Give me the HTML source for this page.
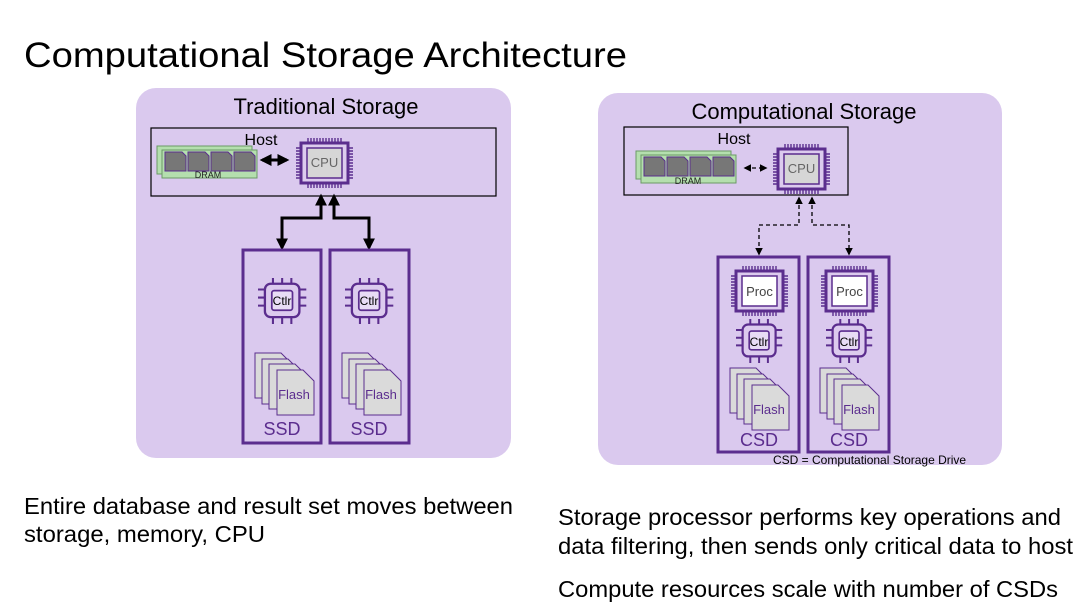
<!DOCTYPE html>
<html><head><meta charset="utf-8"><style>
html,body{margin:0;padding:0;background:#fff;width:1080px;height:604px;overflow:hidden}
svg{display:block}
text{font-family:"Liberation Sans",Arial,sans-serif}
</style></head><body>
<svg width="1080" height="604" viewBox="0 0 1080 604" xmlns="http://www.w3.org/2000/svg">
<defs>
  <marker id="ah" viewBox="0 0 10 10" refX="8" refY="5" markerWidth="4" markerHeight="4" orient="auto-start-reverse"><path d="M0 0 L10 5 L0 10 Z" fill="#000"/></marker>
  <marker id="ahs" viewBox="0 0 10 10" refX="8" refY="5" markerWidth="6" markerHeight="6" orient="auto-start-reverse"><path d="M0 0 L10 5 L0 10 Z" fill="#000"/></marker>
  <g id="pins">
    <path d="M12 0V6M15 0V6M18 0V6M21 0V6M24 0V6M27 0V6M30 0V6M33 0V6M36 0V6M39 0V6M42 0V6M45 0V6
             M12 44V50M15 44V50M18 44V50M21 44V50M24 44V50M27 44V50M30 44V50M33 44V50M36 44V50M39 44V50M42 44V50M45 44V50
             M0 10H6M0 13H6M0 16H6M0 19H6M0 22H6M0 25H6M0 28H6M0 31H6M0 34H6M0 37H6M0 40H6
             M51 10H57M51 13H57M51 16H57M51 19H57M51 22H57M51 25H57M51 28H57M51 31H57M51 34H57M51 37H57M51 40H57" stroke="#5b2d8e" stroke-width="1.4"/>
    <rect x="5" y="5" width="47" height="40" fill="#dccbee" stroke="#5b2d8e" stroke-width="3"/>
  </g>
  <g id="cpu"><use href="#pins"/><rect x="11" y="10" width="35" height="30" fill="#d6d6d6" stroke="#5b2d8e" stroke-width="1.5"/></g>
  <g id="proc"><use href="#pins"/><rect x="11" y="10" width="35" height="30" fill="#fff" stroke="#5b2d8e" stroke-width="1.5"/></g>
  <g id="ctlr" stroke="#5b2d8e" fill="none">
    <path d="M13 0V6M21 0V6M29 0V6M13 34V40M21 34V40M29 34V40M0 10H6M0 17H6M0 24H6M36 10H42M36 17H42M36 24H42" stroke-width="1.8"/>
    <rect x="6" y="5" width="30" height="29" rx="5" fill="#dccbee" stroke-width="2"/>
    <rect x="12" y="11" width="18" height="17" rx="2" fill="#e8dcf5" stroke-width="1.5"/>
  </g>
  <g id="page"><path d="M0 0H26L37 11V45H0Z" fill="#dadada" stroke="#5b2d8e" stroke-width="1"/></g>
  <g id="flash">
    <use href="#page" x="0" y="0"/><use href="#page" x="7" y="6"/><use href="#page" x="14" y="11"/><use href="#page" x="22" y="17"/>
  </g>
  <g id="dram">
    <rect x="0" y="0" width="95" height="28" fill="#b4dfae" stroke="#6b9a66"/>
    <rect x="5" y="4" width="95" height="28" fill="#b4dfae" stroke="#6b9a66"/>
    <path d="M8 6h17l4 4v15h-21z M31 6h17l4 4v15h-21z M54 6h17l4 4v15h-21z M77 6h17l4 4v15h-21z" fill="#777" stroke="#5b2d8e"/>
  </g>
</defs>

<text x="24" y="67" font-size="35" textLength="603" lengthAdjust="spacingAndGlyphs" fill="#000">Computational Storage Architecture</text>

<!-- Left panel -->
<rect x="136" y="88" width="375" height="370" rx="20" fill="#dac9ee"/>
<text x="326" y="114" font-size="22" text-anchor="middle" fill="#000">Traditional Storage</text>
<rect x="151" y="128" width="345" height="68" fill="#dac9ee" stroke="#000" stroke-width="1.2"/>
<text x="261" y="145" font-size="16" text-anchor="middle">Host</text>
<use href="#dram" x="157" y="146"/>
<text x="208" y="178" font-size="9" text-anchor="middle" fill="#222">DRAM</text>
<line x1="262" y1="160" x2="287" y2="160" stroke="#000" stroke-width="3" marker-start="url(#ah)" marker-end="url(#ah)"/>
<use href="#cpu" x="296" y="138"/>
<text x="324.5" y="167" font-size="13" text-anchor="middle" fill="#666">CPU</text>
<path d="M321 196V218H282V248" fill="none" stroke="#000" stroke-width="3" marker-start="url(#ah)" marker-end="url(#ah)"/>
<path d="M334 196V218H369V248" fill="none" stroke="#000" stroke-width="3" marker-start="url(#ah)" marker-end="url(#ah)"/>
<rect x="243" y="250" width="78" height="193" fill="none" stroke="#5b2d8e" stroke-width="3"/>
<rect x="330" y="250" width="79" height="193" fill="none" stroke="#5b2d8e" stroke-width="3"/>
<use href="#ctlr" transform="translate(258,278) scale(1.15)"/><text x="282" y="305" font-size="12" text-anchor="middle">Ctlr</text>
<use href="#ctlr" transform="translate(345,278) scale(1.15)"/><text x="369" y="305" font-size="12" text-anchor="middle">Ctlr</text>
<use href="#flash" x="255" y="353"/><text x="294" y="399" font-size="13" text-anchor="middle" fill="#5b2d8e">Flash</text>
<use href="#flash" x="342" y="353"/><text x="381" y="399" font-size="13" text-anchor="middle" fill="#5b2d8e">Flash</text>
<text x="282" y="435" font-size="18" text-anchor="middle" fill="#5b2d8e">SSD</text>
<text x="369" y="435" font-size="18" text-anchor="middle" fill="#5b2d8e">SSD</text>

<!-- Right panel -->
<rect x="598" y="93" width="404" height="372" rx="20" fill="#dac9ee"/>
<text x="804" y="119" font-size="22" text-anchor="middle" fill="#000">Computational Storage</text>
<rect x="624" y="127" width="224" height="68" fill="#dac9ee" stroke="#000" stroke-width="1.2"/>
<text x="734" y="144" font-size="16" text-anchor="middle">Host</text>
<use href="#dram" x="636" y="151"/>
<text x="688" y="184" font-size="9" text-anchor="middle" fill="#222">DRAM</text>
<line x1="745" y1="168" x2="766" y2="168" stroke="#000" stroke-width="1.3" stroke-dasharray="4,3" marker-start="url(#ahs)" marker-end="url(#ahs)"/>
<use href="#cpu" x="773" y="144"/>
<text x="801.5" y="173" font-size="13" text-anchor="middle" fill="#666">CPU</text>
<path d="M799 198V225H759V254" fill="none" stroke="#000" stroke-width="1.3" stroke-dasharray="4,3" marker-start="url(#ahs)" marker-end="url(#ahs)"/>
<path d="M812 198V225H849V254" fill="none" stroke="#000" stroke-width="1.3" stroke-dasharray="4,3" marker-start="url(#ahs)" marker-end="url(#ahs)"/>
<rect x="718" y="257" width="81" height="195" fill="none" stroke="#5b2d8e" stroke-width="3"/>
<rect x="808" y="257" width="81" height="195" fill="none" stroke="#5b2d8e" stroke-width="3"/>
<use href="#proc" x="731" y="266"/><text x="759.5" y="296" font-size="13" text-anchor="middle" fill="#444">Proc</text>
<use href="#proc" x="821" y="266"/><text x="849.5" y="296" font-size="13" text-anchor="middle" fill="#444">Proc</text>
<use href="#ctlr" transform="translate(736,319) scale(1.1)"/><text x="759" y="346" font-size="12" text-anchor="middle">Ctlr</text>
<use href="#ctlr" transform="translate(826,319) scale(1.1)"/><text x="849" y="346" font-size="12" text-anchor="middle">Ctlr</text>
<use href="#flash" x="730" y="368"/><text x="769" y="414" font-size="13" text-anchor="middle" fill="#5b2d8e">Flash</text>
<use href="#flash" x="820" y="368"/><text x="859" y="414" font-size="13" text-anchor="middle" fill="#5b2d8e">Flash</text>
<text x="759" y="446" font-size="18" text-anchor="middle" fill="#5b2d8e">CSD</text>
<text x="849" y="446" font-size="18" text-anchor="middle" fill="#5b2d8e">CSD</text>
<text x="773" y="464" font-size="12" fill="#000">CSD = Computational Storage Drive</text>

<!-- Bottom text -->
<text x="24" y="514" font-size="23" textLength="489" lengthAdjust="spacingAndGlyphs">Entire database and result set moves between</text>
<text x="24" y="542" font-size="23" textLength="241" lengthAdjust="spacingAndGlyphs">storage, memory, CPU</text>
<text x="558" y="525" font-size="23" textLength="503" lengthAdjust="spacingAndGlyphs">Storage processor performs key operations and</text>
<text x="558" y="554" font-size="23" textLength="515" lengthAdjust="spacingAndGlyphs">data filtering, then sends only critical data to host</text>
<text x="558" y="597" font-size="23" textLength="500" lengthAdjust="spacingAndGlyphs">Compute resources scale with number of CSDs</text>
</svg>
</body></html>
